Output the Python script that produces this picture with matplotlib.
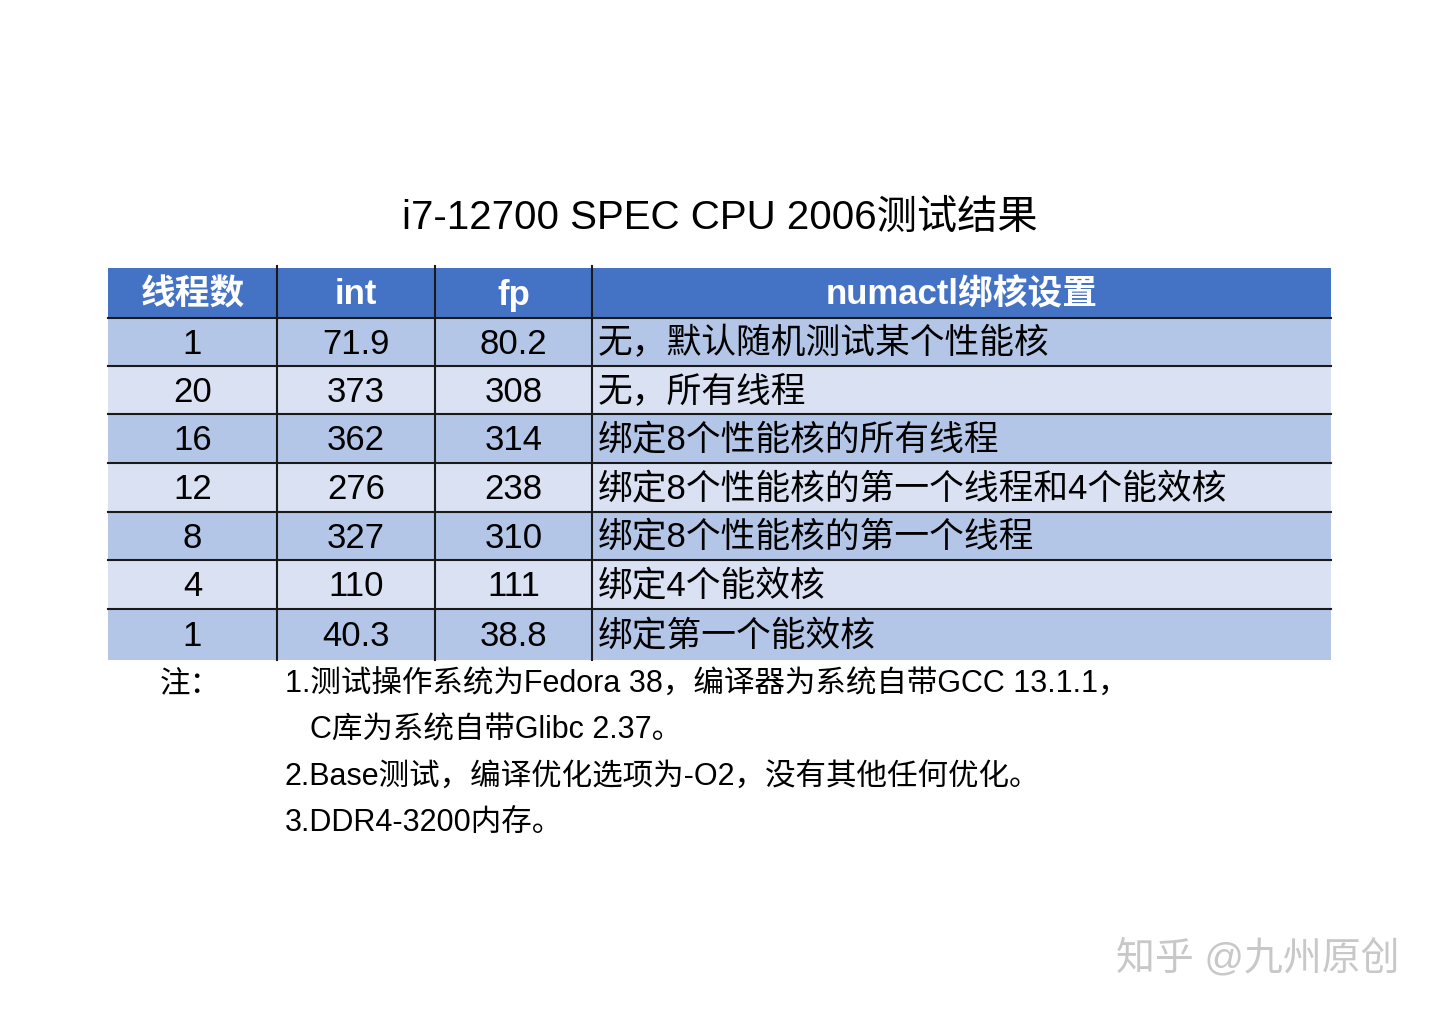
import matplotlib
matplotlib.use("Agg")
import matplotlib.pyplot as plt
from matplotlib.patches import Rectangle

FAM = ['Liberation Sans', 'Noto Sans CJK SC', 'DejaVu Sans']
title = "i7-12700 SPEC CPU 2006测试结果"
headers = ["线程数", "int", "fp", "numactl绑核设置"]
threads = ["1", "20", "16", "12", "8", "4", "1"]
int_scores = ["71.9", "373", "362", "276", "327", "110", "40.3"]
fp_scores = ["80.2", "308", "314", "238", "310", "111", "38.8"]
settings = ["无，默认随机测试某个性能核", "无，所有线程", "绑定8个性能核的所有线程",
            "绑定8个性能核的第一个线程和4个能效核", "绑定8个性能核的第一个线程",
            "绑定4个能效核", "绑定第一个能效核"]
notes = [("注：", 160, 685), ("1.测试操作系统为Fedora 38，编译器为系统自带GCC 13.1.1，", 285, 685),
         ("C库为系统自带Glibc 2.37。", 310, 730), ("2.Base测试，编译优化选项为-O2，没有其他任何优化。", 285, 778),
         ("3.DDR4-3200内存。", 285, 823)]

fig = plt.figure(figsize=(14.4, 10.17), dpi=100)
ax = fig.add_axes([0, 0, 1, 1])
ax.set_xlim(0, 1440); ax.set_ylim(1017, 0); ax.axis('off')

ax.text(720, 218, title, ha='center', va='center', fontsize=29, family=FAM)
cols = [108, 277, 435, 592, 1331]
rows = [268, 318, 366, 414, 463, 512, 560, 609, 660]
ax.add_patch(Rectangle((cols[0], rows[0]), cols[-1]-cols[0], rows[1]-rows[0], color='#4472C4', lw=0))
for i in range(len(threads)):
    c = '#B4C6E7' if i % 2 == 0 else '#D9E1F2'
    ax.add_patch(Rectangle((cols[0], rows[i+1]), cols[-1]-cols[0], rows[i+2]-rows[i+1], color=c, lw=0))
for j, h in enumerate(headers):
    ax.text((cols[j]+cols[j+1])/2, (rows[0]+rows[1])/2+2, h, ha='center', va='center',
            fontsize=25, color='white', fontweight='bold', family=FAM)
for i in range(len(threads)):
    yc = (rows[i+1]+rows[i+2])/2 + 2
    for j, v in enumerate([threads[i], int_scores[i], fp_scores[i]]):
        ax.text((cols[j]+cols[j+1])/2, yc, v, ha='center', va='center', fontsize=25, family=FAM)
    ax.text(cols[3]+6, yc, settings[i], ha='left', va='center', fontsize=25, family=FAM)
for y in rows[1:-1]:
    ax.plot([cols[0], cols[-1]], [y, y], color='#1a1a1a', lw=1.5)
for x in cols[1:-1]:
    ax.plot([x, x], [rows[0]-2, rows[-1]], color='#1a1a1a', lw=1.5)
for t, x, y in notes:
    ax.text(x, y, t, ha='left', va='center', fontsize=22, family=FAM)
ax.text(1400, 958, "知乎 @九州原创", ha='right', va='center', fontsize=28, color='#c8c8c8', family=FAM)
fig.savefig("out.png", dpi=100)
